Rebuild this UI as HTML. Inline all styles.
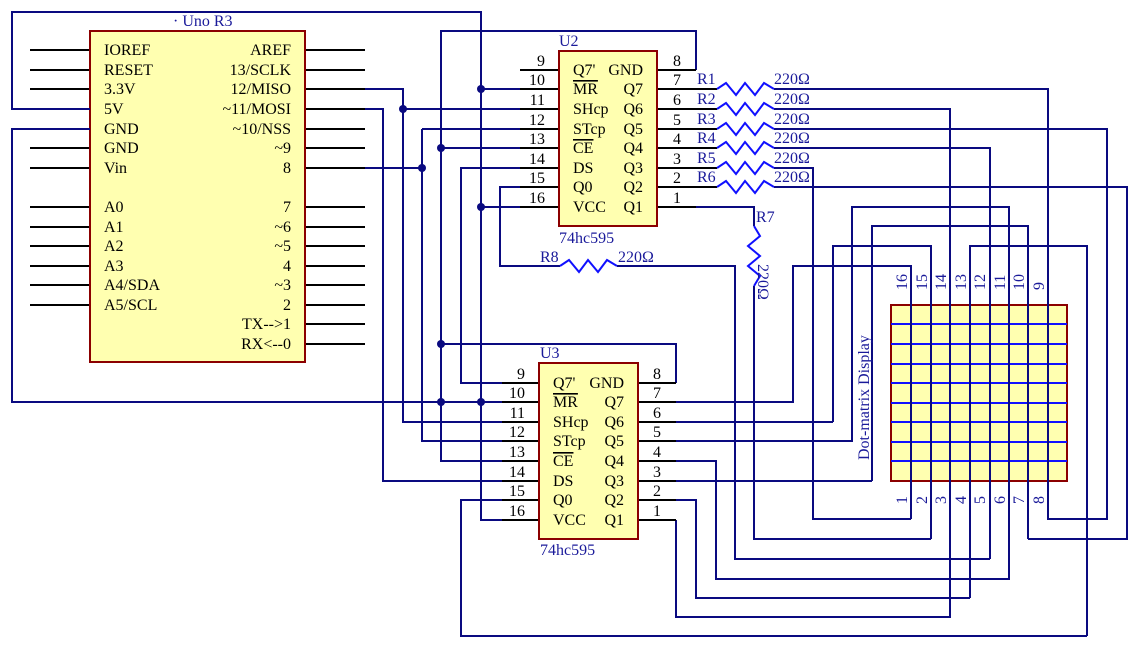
<!DOCTYPE html>
<html><head><meta charset="utf-8"><style>
html,body{margin:0;padding:0;background:#fff;}
svg{display:block;}
text{font-family:"Liberation Serif",serif;font-size:16px;}
.k{fill:#000;}
.b{fill:#1a1a9a;}
.w{stroke:#0a0a80;stroke-width:2;fill:none;}
.p{stroke:#000;stroke-width:2;}
.r{stroke:#1010ff;stroke-width:2;fill:none;}
</style></head><body>
<svg width="1138" height="649" viewBox="0 0 1138 649" xmlns="http://www.w3.org/2000/svg">
<g class="p">
<line x1="30" y1="50" x2="90" y2="50"/><line x1="30" y1="70" x2="90" y2="70"/><line x1="30" y1="89" x2="90" y2="89"/><line x1="30" y1="109" x2="90" y2="109"/><line x1="30" y1="129" x2="90" y2="129"/><line x1="30" y1="148" x2="90" y2="148"/><line x1="30" y1="168" x2="90" y2="168"/><line x1="30" y1="207" x2="90" y2="207"/><line x1="30" y1="227" x2="90" y2="227"/><line x1="30" y1="246" x2="90" y2="246"/><line x1="30" y1="266" x2="90" y2="266"/><line x1="30" y1="285" x2="90" y2="285"/><line x1="30" y1="305" x2="90" y2="305"/>
<line x1="305" y1="50" x2="365" y2="50"/><line x1="305" y1="70" x2="365" y2="70"/><line x1="305" y1="89" x2="365" y2="89"/><line x1="305" y1="109" x2="365" y2="109"/><line x1="305" y1="129" x2="365" y2="129"/><line x1="305" y1="148" x2="365" y2="148"/><line x1="305" y1="168" x2="365" y2="168"/><line x1="305" y1="207" x2="365" y2="207"/><line x1="305" y1="227" x2="365" y2="227"/><line x1="305" y1="246" x2="365" y2="246"/><line x1="305" y1="266" x2="365" y2="266"/><line x1="305" y1="285" x2="365" y2="285"/><line x1="305" y1="305" x2="365" y2="305"/><line x1="305" y1="324" x2="365" y2="324"/><line x1="305" y1="344" x2="365" y2="344"/>
</g>
<rect x="90" y="31" width="215" height="331" fill="#ffffb0" stroke="#8b0000" stroke-width="2"/>
<text x="173" y="26" class="b">· Uno R3</text>
<g class="k">
<text x="104" y="55">IOREF</text><text x="104" y="75">RESET</text><text x="104" y="94">3.3V</text><text x="104" y="114">5V</text><text x="104" y="134">GND</text><text x="104" y="153">GND</text><text x="104" y="173">Vin</text><text x="104" y="212">A0</text><text x="104" y="232">A1</text><text x="104" y="251">A2</text><text x="104" y="271">A3</text><text x="104" y="290">A4/SDA</text><text x="104" y="310">A5/SCL</text>
</g>
<g class="k" text-anchor="end">
<text x="291" y="55">AREF</text><text x="291" y="75">13/SCLK</text><text x="291" y="94">12/MISO</text><text x="291" y="114">~11/MOSI</text><text x="291" y="134">~10/NSS</text><text x="291" y="153">~9</text><text x="291" y="173">8</text><text x="291" y="212">7</text><text x="291" y="232">~6</text><text x="291" y="251">~5</text><text x="291" y="271">4</text><text x="291" y="290">~3</text><text x="291" y="310">2</text><text x="291" y="329">TX--&gt;1</text><text x="291" y="349">RX&lt;--0</text>
</g>

<g class="w">
<polyline points="365,89 403,89 403,422 502,422"/>
<polyline points="365,109 383,109 383,481 502,481"/>
<polyline points="403,109 520,109"/>
<polyline points="365,168 422,168"/>
<polyline points="422,129 520,129"/>
<polyline points="422,129 422,441 502,441"/>
<polyline points="90,109 12,109 12,12 481,12 481,520 502,520"/>
<polyline points="481,89 520,89"/><polyline points="481,207 520,207"/>
<polyline points="90,129 12,129 12,402 502,402"/>
<polyline points="696,70 696,31 441,31 441,461 502,461"/>
<polyline points="441,148 520,148"/>
<polyline points="441,344 676,344 676,383"/>
<polyline points="520,168 461,168 461,383 502,383"/>
<polyline points="520,187 500,187 500,266 560,266"/>
<polyline points="617,266 735,266 735,559 990,559"/>
<polyline points="696,207 754,207 754,226"/>
<polyline points="754,286 754,539 931,539"/>
<polyline points="502,500 461,500 461,636 1087,636"/>
<polyline points="774,89 1048,89 1048,519 1107,519 1107,129 774,129"/>
<polyline points="774,109 950,109 950,617 676,617 676,520"/>
<polyline points="774,148 990,148 990,559"/>
<polyline points="774,168 813,168 813,519 911,519"/>
<polyline points="774,187 1127,187 1127,539 1028,539"/>
<polyline points="852,442 852,207 1009,207 1009,579 716,579 716,461 676,461"/>
<polyline points="872,481 872,226 1028,226 1028,539"/>
<polyline points="833,422 833,246 931,246 931,539"/>
<polyline points="970,598 970,246 1087,246 1087,636"/>
<polyline points="793,403 793,266 911,266 911,519"/>
<polyline points="676,402 793,402"/><polyline points="676,422 833,422"/><polyline points="676,441 852,441"/><polyline points="676,481 872,481"/>
<polyline points="676,500 696,500 696,598 970,598"/>
</g>
<g fill="#0a0a80">
<circle cx="481" cy="89" r="4"/><circle cx="481" cy="207" r="4"/><circle cx="403" cy="109" r="4"/><circle cx="441" cy="148" r="4"/><circle cx="422" cy="168" r="4"/><circle cx="441" cy="344" r="4"/><circle cx="441" cy="402" r="4"/><circle cx="481" cy="402" r="4"/>
</g>

<g class="p">
<line x1="520" y1="70" x2="559" y2="70"/><line x1="520" y1="89" x2="559" y2="89"/><line x1="520" y1="109" x2="559" y2="109"/><line x1="520" y1="129" x2="559" y2="129"/><line x1="520" y1="148" x2="559" y2="148"/><line x1="520" y1="168" x2="559" y2="168"/><line x1="520" y1="187" x2="559" y2="187"/><line x1="520" y1="207" x2="559" y2="207"/>
<line x1="657" y1="70" x2="696" y2="70"/><line x1="657" y1="89" x2="717" y2="89"/><line x1="657" y1="109" x2="717" y2="109"/><line x1="657" y1="129" x2="717" y2="129"/><line x1="657" y1="148" x2="717" y2="148"/><line x1="657" y1="168" x2="717" y2="168"/><line x1="657" y1="187" x2="717" y2="187"/><line x1="657" y1="207" x2="696" y2="207"/>
</g>
<rect x="559" y="51" width="98" height="175" fill="#ffffb0" stroke="#8b0000" stroke-width="2"/>
<text x="559" y="46" class="b">U2</text>
<text x="559" y="243" class="b">74hc595</text>
<g class="k">
<text x="573" y="75">Q7'</text><text x="573" y="94" text-decoration="overline">MR</text><text x="573" y="114">SHcp</text><text x="573" y="134">STcp</text><text x="573" y="153" text-decoration="overline">CE</text><text x="573" y="173">DS</text><text x="573" y="192">Q0</text><text x="573" y="212">VCC</text>
</g>
<g class="k" text-anchor="end">
<text x="643" y="75">GND</text><text x="643" y="94">Q7</text><text x="643" y="114">Q6</text><text x="643" y="134">Q5</text><text x="643" y="153">Q4</text><text x="643" y="173">Q3</text><text x="643" y="192">Q2</text><text x="643" y="212">Q1</text>
<text x="545" y="66">9</text><text x="545" y="85">10</text><text x="545" y="105">11</text><text x="545" y="125">12</text><text x="545" y="144">13</text><text x="545" y="164">14</text><text x="545" y="183">15</text><text x="545" y="203">16</text>
</g>
<g class="k">
<text x="673" y="66">8</text><text x="673" y="85">7</text><text x="673" y="105">6</text><text x="673" y="125">5</text><text x="673" y="144">4</text><text x="673" y="164">3</text><text x="673" y="183">2</text><text x="673" y="203">1</text>
</g>
<g class="r">
<polyline points="717,89 726,83 736,95 745,83 755,95 764,83 774,89"/>
<polyline points="717,109 726,103 736,115 745,103 755,115 764,103 774,109"/>
<polyline points="717,129 726,123 736,135 745,123 755,135 764,123 774,129"/>
<polyline points="717,148 726,142 736,154 745,142 755,154 764,142 774,148"/>
<polyline points="717,168 726,162 736,174 745,162 755,174 764,162 774,168"/>
<polyline points="717,187 726,181 736,193 745,181 755,193 764,181 774,187"/>
<polyline points="560,266 569,260 579,272 588,260 598,272 607,260 617,266"/>
<polyline points="754,226 760,236 748,246 760,256 748,266 760,276 754,286"/>
</g>
<g class="b">
<text x="697" y="84">R1</text><text x="697" y="104">R2</text><text x="697" y="124">R3</text><text x="697" y="143">R4</text><text x="697" y="163">R5</text><text x="697" y="182">R6</text>
<text x="774" y="84">220Ω</text><text x="774" y="104">220Ω</text><text x="774" y="124">220Ω</text><text x="774" y="143">220Ω</text><text x="774" y="163">220Ω</text><text x="774" y="182">220Ω</text>
<text x="540" y="262">R8</text><text x="618" y="262">220Ω</text>
<text x="756" y="222">R7</text>
<text transform="translate(758,264) rotate(90)">220Ω</text>
</g>

<g class="p">
<line x1="502" y1="383" x2="539" y2="383"/><line x1="502" y1="402" x2="539" y2="402"/><line x1="502" y1="422" x2="539" y2="422"/><line x1="502" y1="441" x2="539" y2="441"/><line x1="502" y1="461" x2="539" y2="461"/><line x1="502" y1="481" x2="539" y2="481"/><line x1="502" y1="500" x2="539" y2="500"/><line x1="502" y1="520" x2="539" y2="520"/>
<line x1="638" y1="383" x2="676" y2="383"/><line x1="638" y1="402" x2="676" y2="402"/><line x1="638" y1="422" x2="676" y2="422"/><line x1="638" y1="441" x2="676" y2="441"/><line x1="638" y1="461" x2="676" y2="461"/><line x1="638" y1="481" x2="676" y2="481"/><line x1="638" y1="500" x2="676" y2="500"/><line x1="638" y1="520" x2="676" y2="520"/>
</g>
<rect x="539" y="363" width="99" height="176" fill="#ffffb0" stroke="#8b0000" stroke-width="2"/>
<text x="540" y="358" class="b">U3</text>
<text x="540" y="555" class="b">74hc595</text>
<g class="k">
<text x="553" y="388">Q7'</text><text x="553" y="407" text-decoration="overline">MR</text><text x="553" y="427">SHcp</text><text x="553" y="446">STcp</text><text x="553" y="466" text-decoration="overline">CE</text><text x="553" y="486">DS</text><text x="553" y="505">Q0</text><text x="553" y="525">VCC</text>
</g>
<g class="k" text-anchor="end">
<text x="624" y="388">GND</text><text x="624" y="407">Q7</text><text x="624" y="427">Q6</text><text x="624" y="446">Q5</text><text x="624" y="466">Q4</text><text x="624" y="486">Q3</text><text x="624" y="505">Q2</text><text x="624" y="525">Q1</text>
<text x="525" y="379">9</text><text x="525" y="398">10</text><text x="525" y="418">11</text><text x="525" y="437">12</text><text x="525" y="457">13</text><text x="525" y="477">14</text><text x="525" y="496">15</text><text x="525" y="516">16</text>
</g>
<g class="k">
<text x="653" y="379">8</text><text x="653" y="398">7</text><text x="653" y="418">6</text><text x="653" y="437">5</text><text x="653" y="457">4</text><text x="653" y="477">3</text><text x="653" y="496">2</text><text x="653" y="516">1</text>
</g>

<rect x="891" y="305" width="176" height="176" fill="#ffffb0" stroke="#8b0000" stroke-width="2"/>
<g stroke="#1010ff" stroke-width="2">
<line x1="891" y1="324" x2="1067" y2="324"/><line x1="891" y1="344" x2="1067" y2="344"/><line x1="891" y1="364" x2="1067" y2="364"/><line x1="891" y1="383" x2="1067" y2="383"/><line x1="891" y1="403" x2="1067" y2="403"/><line x1="891" y1="422" x2="1067" y2="422"/><line x1="891" y1="442" x2="1067" y2="442"/><line x1="891" y1="461" x2="1067" y2="461"/>
</g>
<g class="w">
<line x1="911" y1="266" x2="911" y2="519"/><line x1="931" y1="246" x2="931" y2="539"/><line x1="950" y1="109" x2="950" y2="617"/><line x1="970" y1="246" x2="970" y2="598"/><line x1="990" y1="148" x2="990" y2="559"/><line x1="1009" y1="207" x2="1009" y2="579"/><line x1="1028" y1="226" x2="1028" y2="539"/><line x1="1048" y1="89" x2="1048" y2="519"/>
</g>
<g class="b">
<text transform="translate(907,290) rotate(-90)">16</text><text transform="translate(927,290) rotate(-90)">15</text><text transform="translate(946,290) rotate(-90)">14</text><text transform="translate(966,290) rotate(-90)">13</text><text transform="translate(985,290) rotate(-90)">12</text><text transform="translate(1005,290) rotate(-90)">11</text><text transform="translate(1024,290) rotate(-90)">10</text><text transform="translate(1044,290) rotate(-90)">9</text>
<text transform="translate(907,504) rotate(-90)">1</text><text transform="translate(927,504) rotate(-90)">2</text><text transform="translate(946,504) rotate(-90)">3</text><text transform="translate(966,504) rotate(-90)">4</text><text transform="translate(985,504) rotate(-90)">5</text><text transform="translate(1005,504) rotate(-90)">6</text><text transform="translate(1024,504) rotate(-90)">7</text><text transform="translate(1044,504) rotate(-90)">8</text>
<text transform="translate(869,460) rotate(-90)">Dot-matrix Display</text>
</g>
</svg>
</body></html>
